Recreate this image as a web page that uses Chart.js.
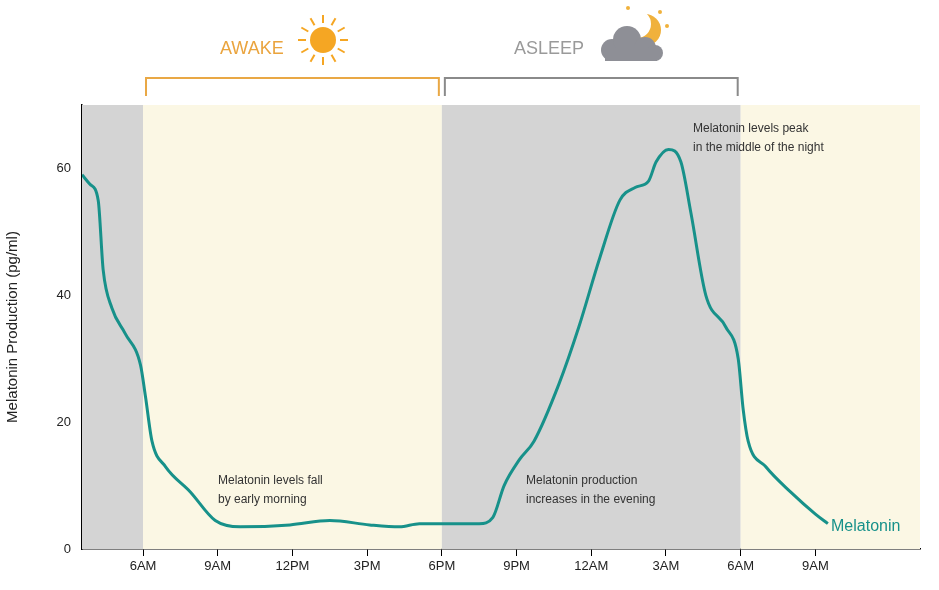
<!DOCTYPE html>
<html>
<head>
<meta charset="utf-8">
<script src="https://cdn.jsdelivr.net/npm/chart.js@4.4.0/dist/chart.umd.min.js"></script>
<style>
  body { margin: 0; background: #fff; }
  #wrap { width: 939px; height: 590px; }
</style>
</head>
<body>
<div id="wrap"><canvas id="c"></canvas></div>
<script>
// hours since midnight of day one (30 = 6AM next day)
const hours = [3.55, 3.87, 4.2, 4.4, 4.75, 5.28, 5.9, 6.1, 6.36, 6.9, 7.9, 8.9, 9.9, 11.9, 13.5, 15.1, 16.3, 17.1, 18, 19.5, 20.05, 20.5, 21.1, 21.7, 22.7, 23.5, 24.35, 25.15, 25.76, 26.3, 26.6, 27.1, 27.6, 28, 28.6, 29.4, 29.9, 30.1, 30.3, 31, 32, 33, 33.5];
const melatonin = [59, 57.5, 55, 44, 38, 34, 29, 24, 17, 13, 9, 4.5, 3.5, 3.8, 4.5, 3.8, 3.5, 4, 4, 4, 5, 10, 14, 17, 26, 35, 46, 55, 57, 58, 61, 63, 61, 53, 40, 35, 30, 22, 17, 13, 9, 5.5, 4];
const tickHours = [6, 9, 12, 15, 18, 21, 24, 27, 30, 33];
const tickLabels = ['6AM', '9AM', '12PM', '3PM', '6PM', '9PM', '12AM', '3AM', '6AM', '9AM'];
const yTicks = [0, 20, 40, 60];
// shaded periods: [start, end, kind]
const periods = [[3.55, 6, 'night'], [6, 18, 'day'], [18, 30, 'night'], [30, 37.2, 'day']];

const bgPlugin = {
  id: 'bg',
  beforeDatasetsDraw(chart) {
    const { ctx, chartArea: a, scales: { x } } = chart;
    ctx.save();
    periods.forEach(p => {
      ctx.fillStyle = p[2] === 'night' ? '#d4d4d4' : '#fbf7e4';
      const x0 = x.getPixelForValue(p[0]), x1 = x.getPixelForValue(p[1]);
      ctx.fillRect(x0, a.top, x1 - x0, a.bottom - a.top);
    });
    ctx.restore();
  },
  afterDraw(chart) {
    const { ctx, chartArea: a, scales: { x, y } } = chart;
    ctx.save();
    // brackets
    const bracket = (h0, h1, col) => {
      const x0 = x.getPixelForValue(h0) + 3, x1 = x.getPixelForValue(h1) - 3;
      ctx.strokeStyle = col; ctx.lineWidth = 2;
      ctx.beginPath(); ctx.moveTo(x0, 96); ctx.lineTo(x0, 78); ctx.lineTo(x1, 78); ctx.lineTo(x1, 96); ctx.stroke();
    };
    bracket(6, 18, '#e9a845');
    bracket(18, 30, '#8a8a8a');
    ctx.font = '18px "Liberation Sans", Arial';
    ctx.textBaseline = 'middle';
    ctx.fillStyle = '#eaa43e'; ctx.fillText('AWAKE', 220, 49);
    ctx.fillStyle = '#9a9a9a'; ctx.fillText('ASLEEP', 514, 49);
    // sun
    const sx = 323, sy = 40;
    ctx.fillStyle = '#f5a623'; ctx.beginPath(); ctx.arc(sx, sy, 13, 0, Math.PI * 2); ctx.fill();
    ctx.strokeStyle = '#f5a623'; ctx.lineWidth = 2;
    for (let i = 0; i < 12; i++) {
      const t = i * Math.PI / 6;
      ctx.beginPath(); ctx.moveTo(sx + Math.cos(t) * 17, sy + Math.sin(t) * 17);
      ctx.lineTo(sx + Math.cos(t) * 25, sy + Math.sin(t) * 25); ctx.stroke();
    }
    // moon + cloud
    ctx.fillStyle = '#f0b13c'; ctx.beginPath(); ctx.arc(645, 30, 16, 0, Math.PI * 2); ctx.fill();
    ctx.fillStyle = '#fff'; ctx.beginPath(); ctx.arc(637, 24, 14, 0, Math.PI * 2); ctx.fill();
    ctx.fillStyle = '#8e8f96';
    [[612, 50, 11], [627, 40, 14], [645, 48, 11], [655, 53, 8]].forEach(c => { ctx.beginPath(); ctx.arc(c[0], c[1], c[2], 0, Math.PI * 2); ctx.fill(); });
    ctx.fillRect(605, 48, 52, 13);
    ctx.fillStyle = '#f0b13c';
    [[628, 8], [660, 12], [667, 26]].forEach(s => { ctx.beginPath(); ctx.arc(s[0], s[1], 2, 0, Math.PI * 2); ctx.fill(); });
    // annotations
    ctx.fillStyle = '#333'; ctx.font = '12px "Liberation Sans", Arial'; ctx.textBaseline = 'alphabetic';
    ctx.fillText('Melatonin levels fall', 218, 484); ctx.fillText('by early morning', 218, 503);
    ctx.fillText('Melatonin production', 526, 484); ctx.fillText('increases in the evening', 526, 503);
    ctx.fillText('Melatonin levels peak', 693, 132); ctx.fillText('in the middle of the night', 693, 151);
    ctx.fillStyle = '#17918a'; ctx.font = '16px "Liberation Sans", Arial';
    ctx.fillText('Melatonin', 831, 531);
    ctx.restore();
  }
};

new Chart(document.getElementById('c'), {
  type: 'line',
  data: {
    datasets: [{
      data: hours.map((h, i) => ({ x: h, y: melatonin[i] })),
      borderColor: '#17918a', borderWidth: 3, pointRadius: 0, tension: 0.4, cubicInterpolationMode: 'monotone'
    }]
  },
  options: {
    responsive: true, maintainAspectRatio: false, animation: false,
    layout: { padding: { top: 105, right: 19 } },
    plugins: { legend: { display: false }, tooltip: { enabled: false } },
    scales: {
      x: {
        type: 'linear', min: 3.55, max: 37.2,
        afterBuildTicks: s => { s.ticks = tickHours.map(v => ({ value: v })); },
        ticks: { callback: v => tickLabels[tickHours.indexOf(v)], color: '#222', font: { size: 13, family: 'Liberation Sans' }, maxRotation: 0, autoSkip: false },
        grid: { display: true, drawOnChartArea: false, drawTicks: true, tickLength: 7, color: '#000' },
        border: { color: '#000', width: 1.5 },
        afterFit: s => { s.height = 41; }
      },
      y: {
        min: 0, max: 70,
        afterBuildTicks: s => { s.ticks = yTicks.map(v => ({ value: v })); },
        ticks: { color: '#222', font: { size: 13, family: 'Liberation Sans' } },
        grid: { display: false },
        border: { color: '#000', width: 1.5 },
        title: { display: true, text: 'Melatonin Production (pg/ml)', color: '#222', font: { size: 15, family: 'Liberation Sans' } },
        afterFit: s => { s.width = 82; }
      }
    }
  },
  plugins: [bgPlugin]
});
</script>
</body>
</html>
